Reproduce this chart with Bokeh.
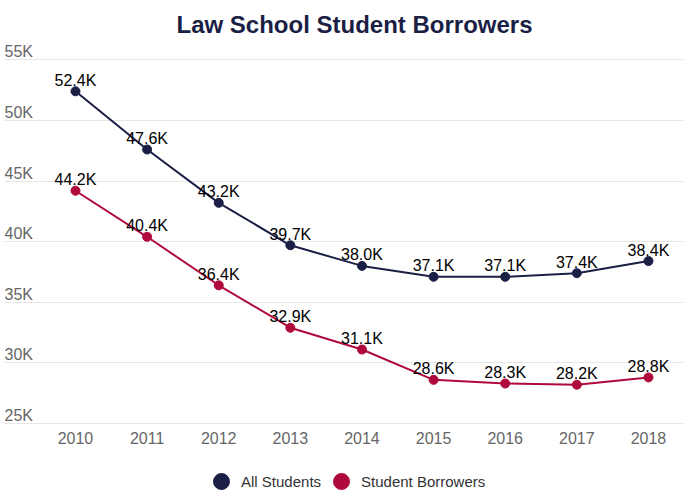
from bokeh.plotting import figure
from bokeh.layouts import column
from bokeh.models import ColumnDataSource, FixedTicker, Legend, LegendItem, Range1d
from bokeh.embed import file_html
from bokeh.resources import INLINE
from bokeh.core.properties import value

# ---- data ----
years = [2010, 2011, 2012, 2013, 2014, 2015, 2016, 2017, 2018]
x_tick_labels = ["2010", "2011", "2012", "2013", "2014", "2015", "2016", "2017", "2018"]
all_students = [52.4, 47.6, 43.2, 39.7, 38.0, 37.1, 37.1, 37.4, 38.4]          # thousands
student_borrowers = [44.2, 40.4, 36.4, 32.9, 31.1, 28.6, 28.3, 28.2, 28.8]     # thousands
y_ticks = [25, 30, 35, 40, 45, 50, 55]
y_tick_labels = ["25K", "30K", "35K", "40K", "45K", "50K", "55K"]
series_names = ["All Students", "Student Borrowers"]
series_colors = ["#1b1f45", "#b0093c"]

FONT = "Liberation Sans"

p = figure(width=700, height=461, output_backend="svg", toolbar_location=None,
           x_range=Range1d(2009.009, 2018.489), y_range=Range1d(25, 56.59),
           min_border_left=4, min_border_right=17, min_border_top=40, min_border_bottom=38)

p.title.text = "Law School Student Borrowers"
p.title.align = "left"
p.title.offset = 172
p.title.text_font = FONT
p.title.text_font_size = "24px"
p.title.text_font_style = "bold"
p.title.text_color = "#1b1f45"
p.title.standoff = 6

p.outline_line_color = None
p.background_fill_color = "white"
p.border_fill_color = "white"

# axes
p.yaxis.visible = False
p.ygrid.ticker = FixedTicker(ticks=y_ticks)
p.ygrid.grid_line_color = "#e6e6e6"
p.ygrid.grid_line_width = 1
p.xgrid.grid_line_color = None

p.xaxis.ticker = FixedTicker(ticks=years)
p.xaxis.major_label_overrides = {y: lab for y, lab in zip(years, x_tick_labels)}
p.xaxis.axis_line_color = "#e6e6e6"
p.xaxis.major_tick_line_color = None
p.xaxis.minor_tick_line_color = None
p.xaxis.major_label_standoff = 2
p.xaxis.major_label_text_font = FONT
p.xaxis.major_label_text_font_size = "16px"
p.xaxis.major_label_text_color = "#666666"

# y tick labels drawn inside plot, above grid lines
ysrc = ColumnDataSource(dict(x=[p.x_range.start] * len(y_ticks), y=y_ticks, t=y_tick_labels))
p.text(x="x", y="y", text="t", source=ysrc, text_font=value(FONT), text_font_size="16px",
       text_color="#666666", text_align="left", text_baseline="middle", y_offset=-8)

series = [all_students, student_borrowers]
for name, vals, col in zip(series_names, series, series_colors):
    src = ColumnDataSource(dict(x=years, y=vals))
    p.line(x="x", y="y", source=src, line_color=col, line_width=2)
    p.scatter(x="x", y="y", source=src, size=9, fill_color=col, line_color=col)

for name, vals, col in zip(series_names, series, series_colors):
    src = ColumnDataSource(dict(x=years, y=vals, lab=[f"{v:.1f}K" for v in vals]))
    p.text(x="x", y="y", text="lab", source=src, text_font=value(FONT), text_font_size="16px",
           text_color="black", text_align="center", text_baseline="middle", y_offset=-11)

# ---- legend strip ----
lg = figure(width=700, height=38, output_backend="svg", toolbar_location=None,
            x_axis_location=None, y_axis_location=None,
            x_range=Range1d(0, 1), y_range=Range1d(0, 1),
            min_border_left=0, min_border_right=0, min_border_top=0, min_border_bottom=0)
lg.outline_line_color = None
lg.xgrid.visible = False
lg.ygrid.visible = False
legend_items = []
for name, col in zip(series_names, series_colors):
    r = lg.scatter(x=[-5], y=[-5], size=16, fill_color=col, line_color=col)  # legend swatch only
    legend_items.append(LegendItem(label=name, renderers=[r]))

legend = Legend(items=legend_items, orientation="horizontal", location=(197, -2),
                glyph_width=40, glyph_height=40, label_standoff=0, spacing=0,
                padding=0, margin=0, border_line_color=None, background_fill_alpha=0,
                label_text_font=FONT, label_text_font_size="15px", label_text_color="#333333")
lg.add_layout(legend, "center")

layout = column(p, lg, spacing=0)
open("out.html", "w").write(file_html(layout, INLINE))
